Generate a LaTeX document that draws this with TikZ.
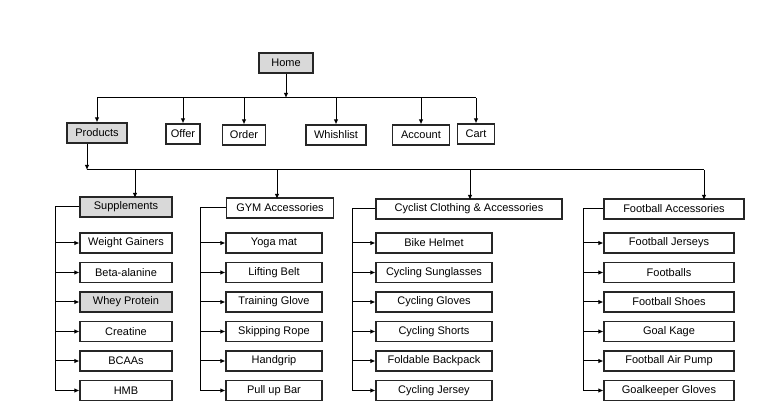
\documentclass[tikz,border=0pt]{standalone}
\usepackage{fontspec}
\setmainfont{Liberation Sans}
\usetikzlibrary{arrows.meta}
\tikzset{
  box/.style={draw=black!85,line width=1.2pt,minimum height=20pt,inner sep=1pt,font=\fontsize{11}{13}\selectfont},
  gbox/.style={box,fill=black!15},
  arr/.style={-{Latex[length=5pt,width=4.5pt]}},
}
\begin{document}
\begin{tikzpicture}[x=1pt,y=-1pt,line width=1pt]
\useasboundingbox (0,0) rectangle (768,419);
% top level
\node[gbox,minimum width=54pt] (home) at (286,63) {Home};
\node[gbox,minimum width=60pt] (prod) at (97,133) {Products};
\node[box,minimum width=34pt] (offer) at (183,134) {Offer};
\node[box,minimum width=43pt] (order) at (244,135) {Order};
\node[box,minimum width=60pt] (wish) at (336,135) {Whishlist};
\node[box,minimum width=57pt] (acc) at (421,135) {Account};
\node[box,minimum width=37pt] (cart) at (476,134) {Cart};
\coordinate (bus) at (286,98);
\draw[arr] (home) -- (bus);
\draw (prod.north |- bus) -- (cart.north |- bus);
\foreach \n in {prod,offer,order,wish,acc,cart}
  \draw[arr] (\n.north |- bus) -- (\n.north);
% categories
\node[gbox,minimum width=92pt] (supp) at (126,207) {Supplements};
\node[box,minimum width=107pt] (gym) at (280,208) {GYM Accessories};
\node[box,minimum width=186pt] (cyc) at (469,209) {Cyclist Clothing \& Accessories};
\node[box,minimum width=140pt] (foot) at (674,209) {Football Accessories};
\coordinate (pbus) at (87,170);
\draw[arr] (prod.south -| pbus) -- (pbus);
\draw (pbus) -- (704,170);
\draw[arr] (135,170) -- (135,198);
\draw[arr] (277,170) -- (277,199);
\draw[arr] (470,170) -- (470,200);
\draw[arr] (704,170) -- (704,200);
% items
\foreach \cat/\vx/\cx/\w/\items in {
  supp/55/126/92/{Weight Gainers,Beta-alanine,Whey Protein,Creatine,BCAAs,HMB},
  gym/200/274/96/{Yoga mat,Lifting Belt,Training Glove,Skipping Rope,Handgrip,Pull up Bar},
  cyc/352/434/116/{Bike Helmet,Cycling Sunglasses,Cycling Gloves,Cycling Shorts,Foldable Backpack,Cycling Jersey},
  foot/583/669/130/{Football Jerseys,Footballs,Football Shoes,Goal Kage,Football Air Pump,Goalkeeper Gloves}} {
  \coordinate (\cat-top) at (\vx,0);
  \draw (\cat.west) -- (\cat.west -| \cat-top) -- (\vx,391);
  \foreach \it [count=\i] in \items {
    \pgfmathsetmacro{\yy}{243+29.5*(\i-1)}
    \node[box,minimum width=\w pt] (\cat-\i) at (\cx,\yy) {\it};
    \draw[arr] (\cat-\i.west -| \cat-top) -- (\cat-\i.west);
  }
}
\node[gbox,minimum width=92pt] at (supp-3) {Whey Protein};
\end{tikzpicture}
\end{document}
